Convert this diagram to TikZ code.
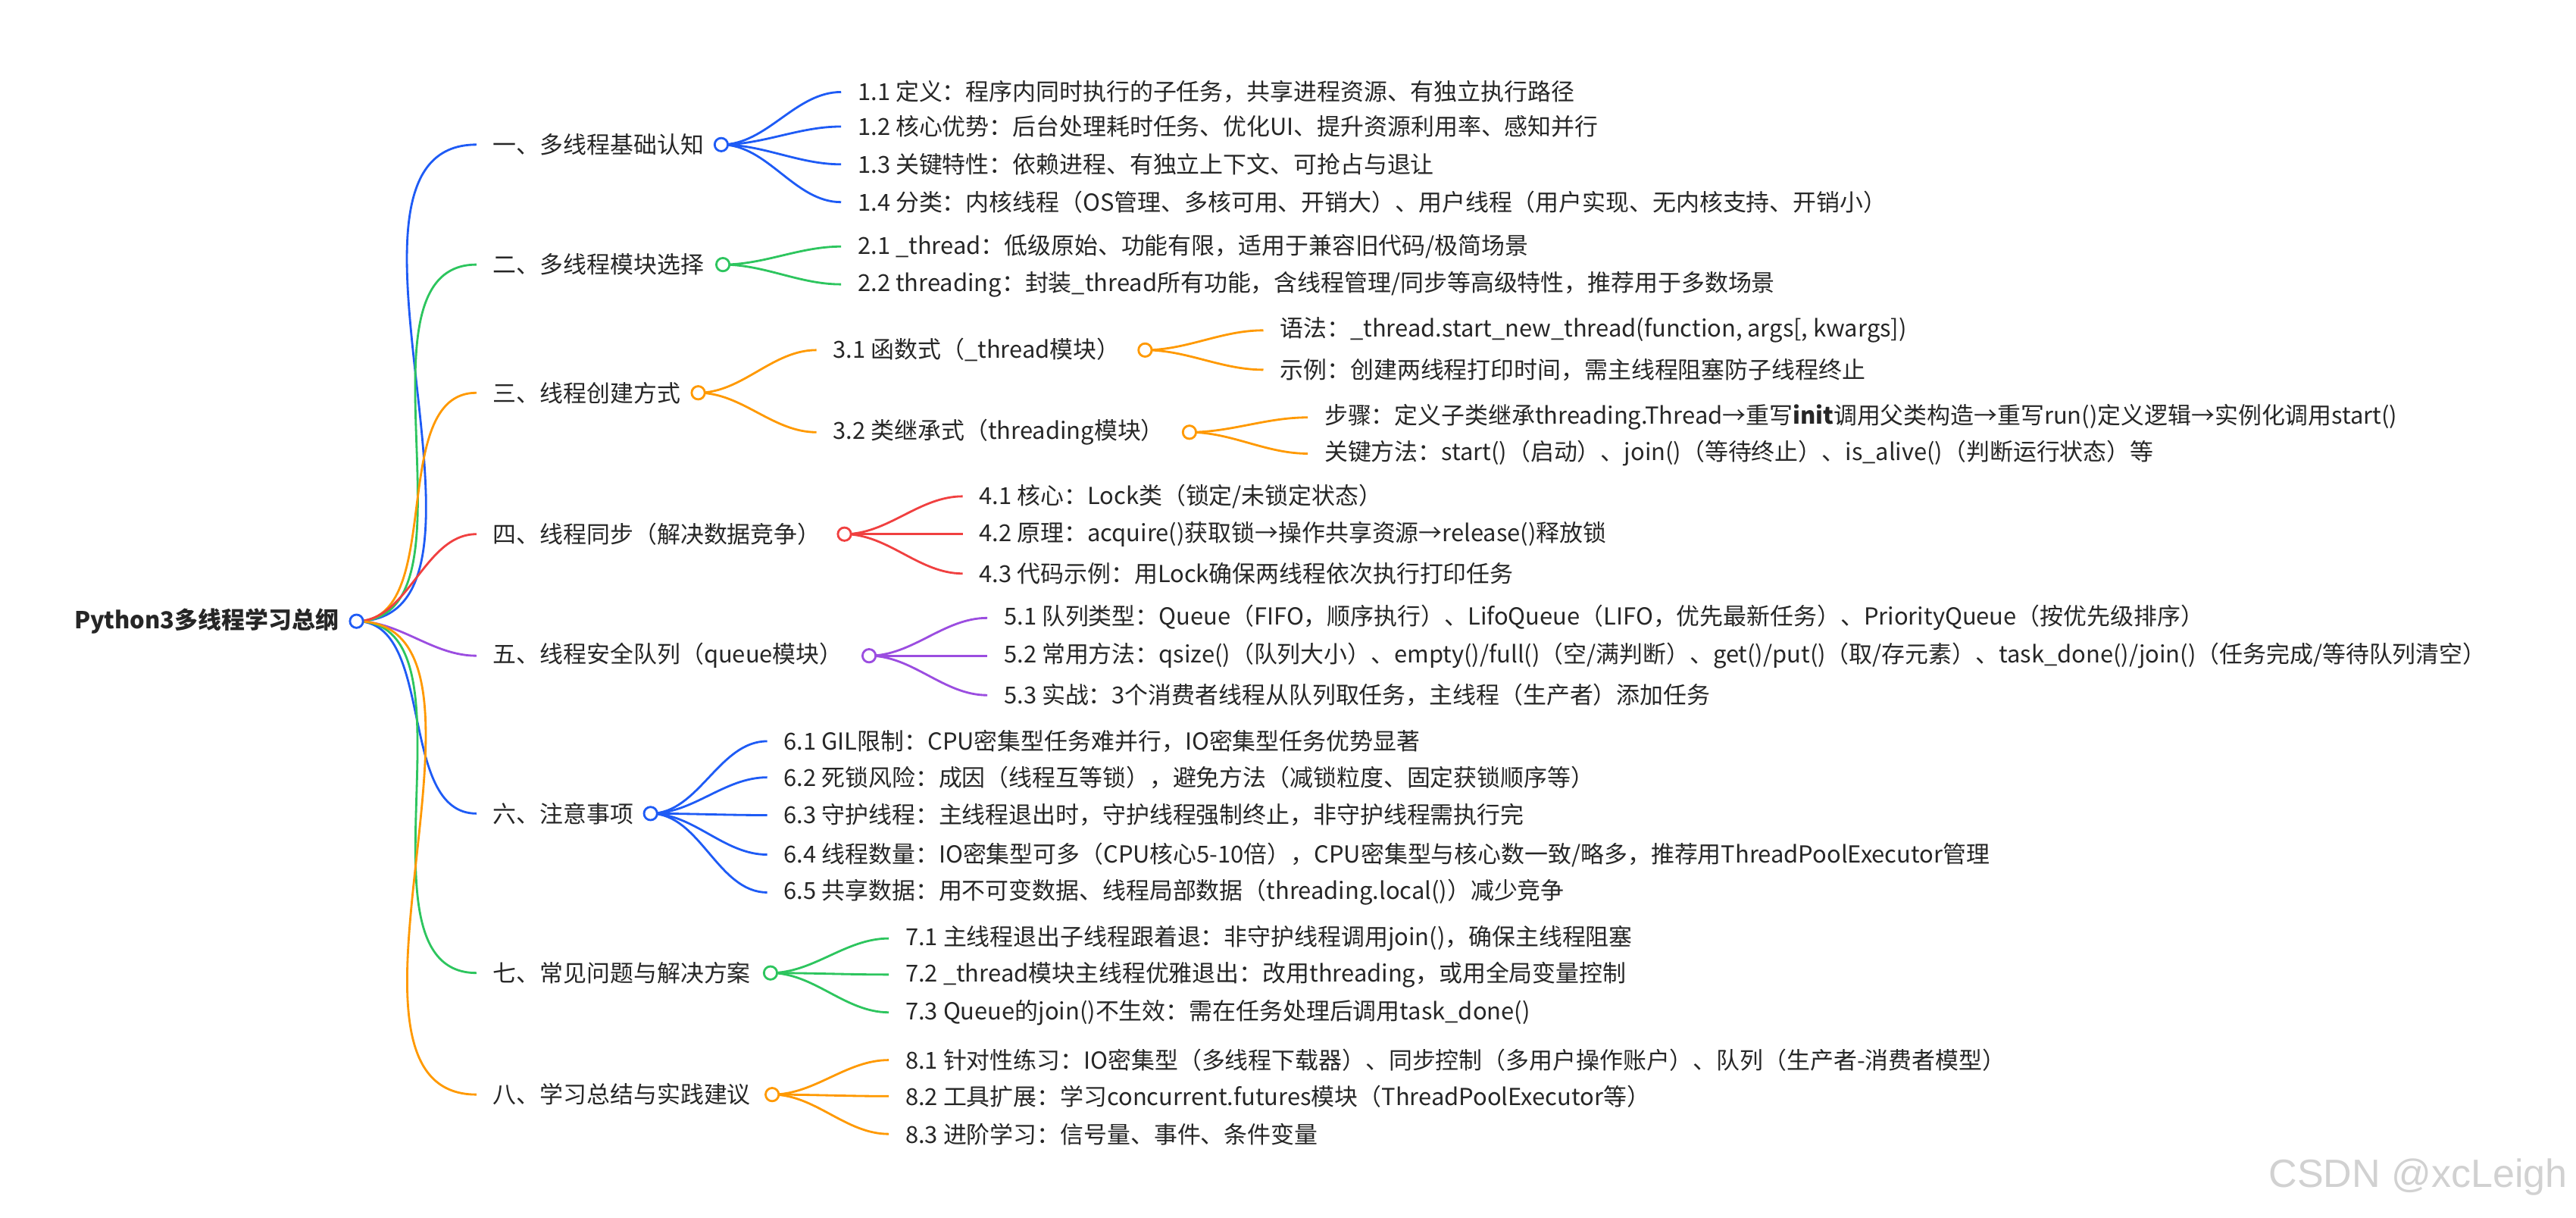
\documentclass[tikz,border=0pt]{standalone}
\usepackage{fontspec}
\setmainfont{Noto Sans CJK SC}
\begin{document}
\begin{tikzpicture}[x=1pt,y=-1pt,
  txt/.style={anchor=west,inner sep=0pt,font=\fontsize{14.25}{16}\selectfont,text=black!85},
  dot/.style={circle,draw=#1,fill=white,line width=1.3pt,minimum size=8pt,inner sep=0pt},
  ln/.style={draw=#1,line width=1.3pt,out=0,in=180,looseness=0.9}]
\useasboundingbox (0,0) rectangle (1568,741);
\definecolor{cb}{HTML}{1E5BF5}
\definecolor{cg}{HTML}{2DC55E}
\definecolor{co}{HTML}{FF9900}
\definecolor{cr}{HTML}{F04040}
\definecolor{cp}{HTML}{9B4DE0}
\newcommand{\br}[6]{\node[txt] (#3) at (#4,#5) {#6};\draw[ln=#1] (#2.center) to ([xshift=-10pt]#3.west);}
\node[txt,font=\fontsize{14.25}{16}\selectfont\bfseries] (root) at (45,378) {Python3多线程学习总纲};
\coordinate (r) at (217,378);
% level 1
\br{cb}{r}{a}{300}{88}{一、多线程基础认知}
\br{cg}{r}{b}{300}{161}{二、多线程模块选择}
\br{co}{r}{c}{300}{239}{三、线程创建方式}
\br{cr}{r}{d}{300}{325}{四、线程同步（解决数据竞争）}
\br{cp}{r}{e}{300}{399}{五、线程安全队列（queue模块）}
\br{cb}{r}{f}{300}{495}{六、注意事项}
\br{cg}{r}{g}{300}{592}{七、常见问题与解决方案}
\br{co}{r}{h}{300}{666}{八、学习总结与实践建议}
\coordinate (ca) at (439,88); \coordinate (cb1) at (440,161);
\coordinate (cc) at (425,239); \coordinate (cd) at (514,325);
\coordinate (ce) at (529,399); \coordinate (cf) at (396,495);
\coordinate (cgg) at (469,592); \coordinate (ch) at (470,666);
\br{cb}{ca}{a1}{522}{56}{1.1 定义：程序内同时执行的子任务，共享进程资源、有独立执行路径}
\br{cb}{ca}{a2}{522}{77}{1.2 核心优势：后台处理耗时任务、优化UI、提升资源利用率、感知并行}
\br{cb}{ca}{a3}{522}{100}{1.3 关键特性：依赖进程、有独立上下文、可抢占与退让}
\br{cb}{ca}{a4}{522}{123}{1.4 分类：内核线程（OS管理、多核可用、开销大）、用户线程（用户实现、无内核支持、开销小）}
\br{cg}{cb1}{b1}{522}{150}{2.1 \_thread：低级原始、功能有限，适用于兼容旧代码/极简场景}
\br{cg}{cb1}{b2}{522}{173}{2.2 threading：封装\_thread所有功能，含线程管理/同步等高级特性，推荐用于多数场景}
\br{co}{cc}{c1}{507}{213}{3.1 函数式（\_thread模块）}
\br{co}{cc}{c2}{507}{263}{3.2 类继承式（threading模块）}
\coordinate (cc1) at (697,213); \coordinate (cc2) at (724,263);
\br{co}{cc1}{c11}{779}{201}{语法：\_thread.start\_new\_thread(function, args[, kwargs])}
\br{co}{cc1}{c12}{779}{225}{示例：创建两线程打印时间，需主线程阻塞防子线程终止}
\br{co}{cc2}{c21}{806}{254}{步骤：定义子类继承threading.Thread→重写\textbf{init}调用父类构造→重写run()定义逻辑→实例化调用start()}
\br{co}{cc2}{c22}{806}{276}{关键方法：start()（启动）、join()（等待终止）、is\_alive()（判断运行状态）等}
\br{cr}{cd}{d1}{596}{302}{4.1 核心：Lock类（锁定/未锁定状态）}
\br{cr}{cd}{d2}{596}{325}{4.2 原理：acquire()获取锁→操作共享资源→release()释放锁}
\br{cr}{cd}{d3}{596}{349}{4.3 代码示例：用Lock确保两线程依次执行打印任务}
\br{cp}{ce}{e1}{611}{376}{5.1 队列类型：Queue（FIFO，顺序执行）、LifoQueue（LIFO，优先最新任务）、PriorityQueue（按优先级排序）}
\br{cp}{ce}{e2}{611}{399}{5.2 常用方法：qsize()（队列大小）、empty()/full()（空/满判断）、get()/put()（取/存元素）、task\_done()/join()（任务完成/等待队列清空）}
\br{cp}{ce}{e3}{611}{423}{5.3 实战：3个消费者线程从队列取任务，主线程（生产者）添加任务}
\br{cb}{cf}{f1}{477}{451}{6.1 GIL限制：CPU密集型任务难并行，IO密集型任务优势显著}
\br{cb}{cf}{f2}{477}{473}{6.2 死锁风险：成因（线程互等锁），避免方法（减锁粒度、固定获锁顺序等）}
\br{cb}{cf}{f3}{477}{496}{6.3 守护线程：主线程退出时，守护线程强制终止，非守护线程需执行完}
\br{cb}{cf}{f4}{477}{520}{6.4 线程数量：IO密集型可多（CPU核心5-10倍），CPU密集型与核心数一致/略多，推荐用ThreadPoolExecutor管理}
\br{cb}{cf}{f5}{477}{543}{6.5 共享数据：用不可变数据、线程局部数据（threading.local()）减少竞争}
\br{cg}{cgg}{g1}{551}{571}{7.1 主线程退出子线程跟着退：非守护线程调用join()，确保主线程阻塞}
\br{cg}{cgg}{g2}{551}{593}{7.2 \_thread模块主线程优雅退出：改用threading，或用全局变量控制}
\br{cg}{cgg}{g3}{551}{616}{7.3 Queue的join()不生效：需在任务处理后调用task\_done()}
\br{co}{ch}{h1}{551}{645}{8.1 针对性练习：IO密集型（多线程下载器）、同步控制（多用户操作账户）、队列（生产者-消费者模型）}
\br{co}{ch}{h2}{551}{667}{8.2 工具扩展：学习concurrent.futures模块（ThreadPoolExecutor等）}
\br{co}{ch}{h3}{551}{690}{8.3 进阶学习：信号量、事件、条件变量}
% circles
\node[dot=cb] at (r) {};
\node[dot=cb] at (ca) {}; \node[dot=cg] at (cb1) {};
\node[dot=co] at (cc) {}; \node[dot=cr] at (cd) {};
\node[dot=cp] at (ce) {}; \node[dot=cb] at (cf) {};
\node[dot=cg] at (cgg) {}; \node[dot=co] at (ch) {};
\node[dot=co] at (cc1) {}; \node[dot=co] at (cc2) {};
\node[anchor=east,inner sep=0pt,text=black!18,font=\fontsize{24}{26}\selectfont\fontspec{Liberation Sans}] (wm) at (1563,716) {CSDN @xcLeigh};
\end{tikzpicture}
\end{document}
